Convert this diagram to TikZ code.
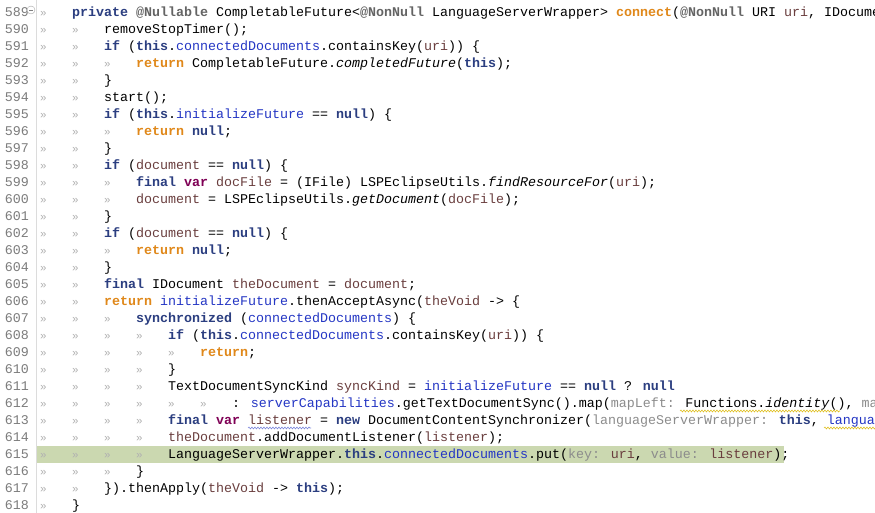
\documentclass[tikz,border=0pt]{standalone}
\usepackage{fontspec}
\usetikzlibrary{decorations.pathmorphing}
\newfontfamily\codefont{Liberation Mono}
\definecolor{kwc}{HTML}{2B3E80}
\definecolor{varc}{HTML}{7F0055}
\definecolor{retc}{HTML}{E0881A}
\definecolor{fldc}{HTML}{2436C4}
\definecolor{locc}{HTML}{6A3E3E}
\definecolor{annc}{HTML}{646464}
\definecolor{hntc}{HTML}{8C8C8C}
\definecolor{numc}{HTML}{7C7C7C}
\definecolor{chvc}{HTML}{B0B0B0}
\definecolor{hlc}{HTML}{CBD8B0}
\definecolor{gutc}{HTML}{DCDCDC}
\definecolor{wyc}{HTML}{E0C020}
\newcommand\kw[1]{\textcolor{kwc}{\bfseries #1}}
\newcommand\kv[1]{\textcolor{varc}{\bfseries #1}}
\newcommand\rt[1]{\textcolor{retc}{\bfseries #1}}
\newcommand\fd[1]{\textcolor{fldc}{#1}}
\newcommand\lv[1]{\textcolor{locc}{#1}}
\newcommand\an[1]{\textcolor{annc}{\bfseries #1}}
\newcommand\hn[1]{\textcolor{hntc}{#1}}
\newcommand\itc[1]{\textit{#1}}
\newcommand\codeline[3]{%
  \ifnum#2>0 \foreach \j in {1,...,#2} {\node[chev] at ({40+32*(\j-1)},{496-17*(#1-589)}) {»};}\fi
  \node[num] (n#1) at (29,{496-17*(#1-589)}) {#1};
  \node[code] (l#1) at ({40+32*#2},{496-17*(#1-589)}) {#3};}
\begin{document}
\begin{tikzpicture}[x=1pt,y=1pt,
  code/.style={anchor=base west,inner sep=0pt,font=\codefont\fontsize{13.33}{17}\selectfont},
  num/.style={anchor=base east,inner sep=0pt,text=numc,font=\codefont\fontsize{13.33}{17}\selectfont},
  chev/.style={anchor=base west,inner sep=0pt,text=chvc,font=\codefont\fontsize{11}{12}\selectfont},
  wavy/.style={decorate,decoration={snake,amplitude=0.9pt,segment length=3pt},line width=0.6pt}]
\useasboundingbox (0,0) rectangle (875,513);
\clip (0,0) rectangle (875,513);
\fill[white] (0,0) rectangle (875,513);
\fill[hlc] (36,{513-463}) rectangle (784,{513-446});
\draw[gutc] (36,0) -- (36,513);
\codeline{589}{1}{\kw{private} \an{@Nullable} CompletableFuture<\an{@NonNull} LanguageServerWrapper> \rt{connect}(\an{@NonNull} URI \lv{uri}, IDocument \lv{document})}
\codeline{590}{2}{removeStopTimer();}
\codeline{591}{2}{\kw{if} (\kw{this}.\fd{connectedDocuments}.containsKey(\lv{uri})) \{}
\codeline{592}{3}{\rt{return} CompletableFuture.\itc{completedFuture}(\kw{this});}
\codeline{593}{2}{\}}
\codeline{594}{2}{start();}
\codeline{595}{2}{\kw{if} (\kw{this}.\fd{initializeFuture} == \kw{null}) \{}
\codeline{596}{3}{\rt{return} \kw{null};}
\codeline{597}{2}{\}}
\codeline{598}{2}{\kw{if} (\lv{document} == \kw{null}) \{}
\codeline{599}{3}{\kw{final} \kv{var} \lv{docFile} = (IFile) LSPEclipseUtils.\itc{findResourceFor}(\lv{uri});}
\codeline{600}{3}{\lv{document} = LSPEclipseUtils.\itc{getDocument}(\lv{docFile});}
\codeline{601}{2}{\}}
\codeline{602}{2}{\kw{if} (\lv{document} == \kw{null}) \{}
\codeline{603}{3}{\rt{return} \kw{null};}
\codeline{604}{2}{\}}
\codeline{605}{2}{\kw{final} IDocument \lv{theDocument} = \lv{document};}
\codeline{606}{2}{\rt{return} \fd{initializeFuture}.thenAcceptAsync(\lv{theVoid} -> \{}
\codeline{607}{3}{\kw{synchronized} (\fd{connectedDocuments}) \{}
\codeline{608}{4}{\kw{if} (\kw{this}.\fd{connectedDocuments}.containsKey(\lv{uri})) \{}
\codeline{609}{5}{\rt{return};}
\codeline{610}{4}{\}}
\codeline{611}{4}{TextDocumentSyncKind \lv{syncKind} = \fd{initializeFuture} == \kw{null} ? \kw{null}}
\codeline{612}{6}{: \fd{serverCapabilities}.getTextDocumentSync().map(\hn{mapLeft:} Functions.\itc{identity}(), \hn{mapRight:}}
\codeline{613}{4}{\kw{final} \kv{var} \lv{listener} = \kw{new} DocumentContentSynchronizer(\hn{languageServerWrapper:} \kw{this}, \fd{languageServer})}
\codeline{614}{4}{\lv{theDocument}.addDocumentListener(\lv{listener});}
\codeline{615}{4}{LanguageServerWrapper.\kw{this}.\fd{connectedDocuments}.put(\hn{key:} \lv{uri}, \hn{value:} \lv{listener});}
\codeline{616}{3}{\}}
\codeline{617}{2}{\}).thenApply(\lv{theVoid} -> \kw{this});}
\codeline{618}{1}{\}}
% fold marker
\node[draw=gray!70,fill=white,circle,minimum size=8pt,inner sep=0pt] (fold) at (31,{513-10}) {};
\draw[gray] ([xshift=-2pt]fold.center) -- ([xshift=2pt]fold.center);
% wavy underlines
\coordinate (w1a) at (248,{513-428}); \coordinate (w1b) at (311,{513-428});
\draw[wavy,fldc!60] (w1a) -- (w1b);
\coordinate (w2a) at (680,{513-411}); \coordinate (w2b) at (840,{513-411});
\draw[wavy,wyc] (w2a) -- (w2b);
\coordinate (w3a) at (824,{513-428}); \coordinate (w3b) at (880,{513-428});
\draw[wavy,wyc] (w3a) -- (w3b);
\end{tikzpicture}
\end{document}
